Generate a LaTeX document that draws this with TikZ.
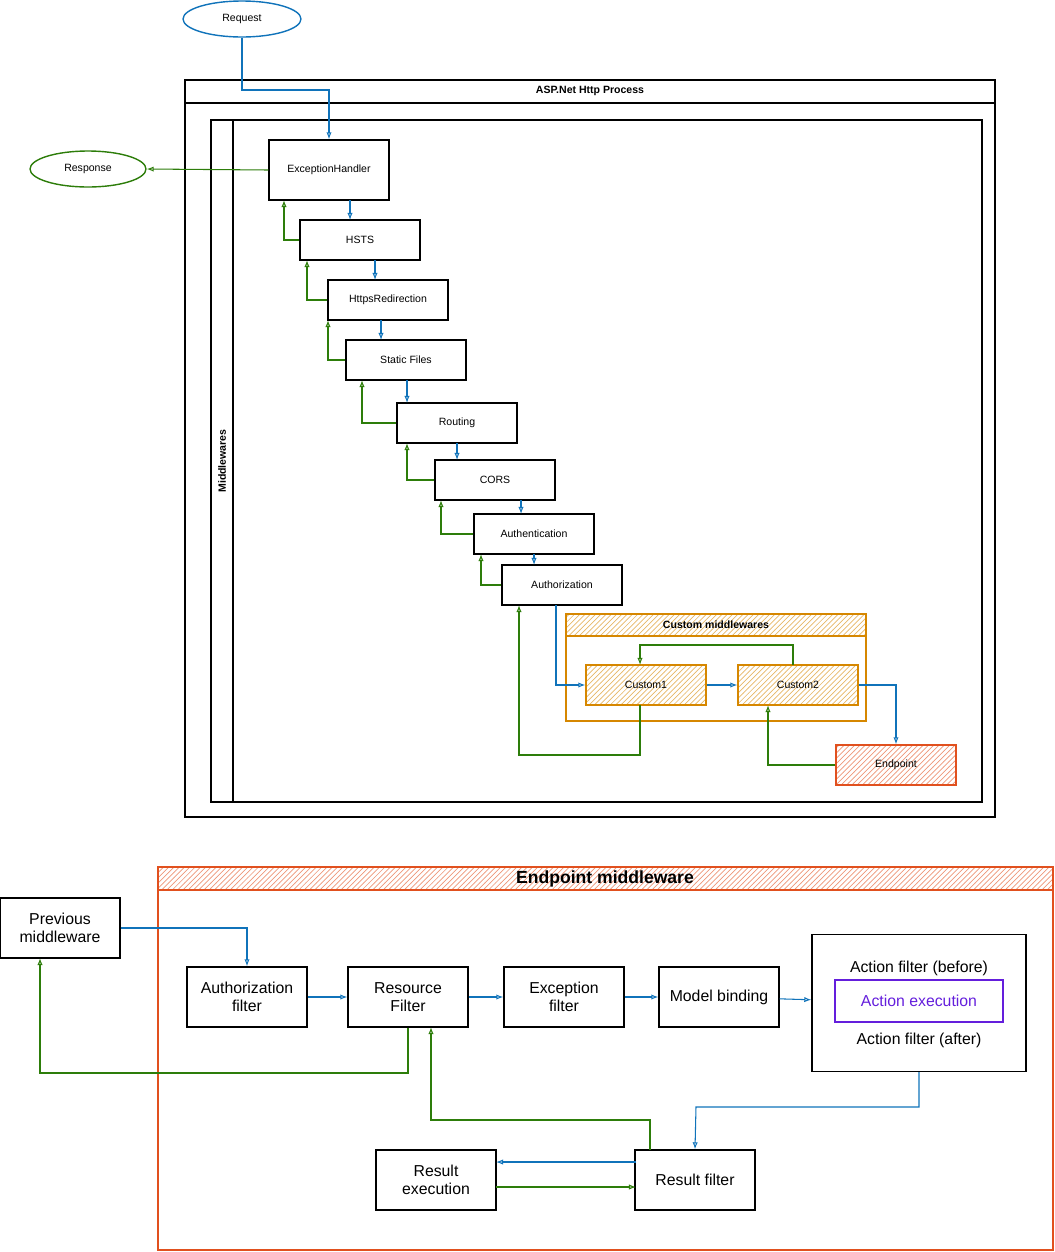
\documentclass[tikz,border=0pt]{standalone}
\usepackage{fontspec}
\setmainfont{Liberation Sans}
\usetikzlibrary{patterns,arrows.meta,shapes.geometric}
\definecolor{blu}{RGB}{16,115,186}
\definecolor{grn}{RGB}{45,125,10}
\definecolor{org}{RGB}{214,135,0}
\definecolor{rd}{RGB}{225,80,30}
\definecolor{prp}{RGB}{100,30,220}
\tikzset{
  mw/.style={draw, thick, fill=white, minimum width=2.4cm, minimum height=0.8cm, inner sep=0pt, font=\fontsize{6}{7}\selectfont},
  flt/.style={draw, thick, fill=white, minimum width=2.4cm, minimum height=1.2cm, inner sep=0pt, align=center, font=\fontsize{9}{10}\selectfont},
  fw/.style={-{Latex[open,length=4pt]}, blu, semithick},
  bk/.style={-{Latex[open,length=4pt]}, grn, semithick}
}
\begin{document}
\begin{tikzpicture}[x=0.02cm, y=-0.02cm]
  \useasboundingbox (0,0) rectangle (1055,1252);
  % top: ASP.Net pipeline
  \draw[thick] (185,80) rectangle (995,817);
  \draw[thick] (185,80) rectangle (995,103);
  \node[font=\fontsize{6}{7}\selectfont\bfseries] at (590,91) {ASP.Net Http Process};
  \draw[thick] (211,120) rectangle (982,802);
  \draw[thick] (233,120) -- (233,802);
  \node[rotate=90, font=\fontsize{6}{7}\selectfont\bfseries] at (222,461) {Middlewares};

  \node[draw=blu, thick, ellipse, minimum width=2.36cm, minimum height=0.72cm, font=\fontsize{6}{7}\selectfont] (req) at (242,19) {Request};
  \node[draw=grn, thick, ellipse, minimum width=2.32cm, minimum height=0.72cm, font=\fontsize{6}{7}\selectfont] (resp) at (88,169) {Response};

  \node[mw, minimum height=1.2cm] (exc) at (329,170) {ExceptionHandler};
  \node[mw] (hsts) at (360,240) {HSTS};
  \node[mw] (https) at (388,300) {HttpsRedirection};
  \node[mw] (stat) at (406,360) {Static Files};
  \node[mw] (rout) at (457,423) {Routing};
  \node[mw] (cors) at (495,480) {CORS};
  \node[mw] (authn) at (534,534) {Authentication};
  \node[mw] (authz) at (562,585) {Authorization};

  \draw[org, thick, pattern=north east lines, pattern color=org!60] (566,614) rectangle (866,636);
  \draw[org, thick] (566,614) rectangle (866,721);
  \node[font=\fontsize{6}{7}\selectfont\bfseries] at (716,625) {Custom middlewares};
  \node[mw, draw=org, pattern=north east lines, pattern color=org!60] (c1) at (646,685) {Custom1};
  \node[mw, draw=org, pattern=north east lines, pattern color=org!60] (c2) at (798,685) {Custom2};
  \node[mw, draw=rd, pattern=north east lines, pattern color=rd!60] (endp) at (896,765) {Endpoint};

  \draw[fw] (req.south) |- (329,90) -- (exc.north);
  \draw[bk] (exc.west) -- (resp.east);
  \draw[fw] (350,200) -- (350,220);
  \draw[fw] (375,260) -- (375,280);
  \draw[fw] (381,320) -- (381,340);
  \draw[fw] (407,380) -- (407,403);
  \draw[fw] (457,443) -- (457,460);
  \draw[fw] (521,500) -- (521,514);
  \draw[fw] (534,554) -- (534,565);
  \draw[bk] (hsts.west) -| (284,200);
  \draw[bk] (https.west) -| (307,260);
  \draw[bk] (stat.west) -| (328,320);
  \draw[bk] (rout.west) -| (362,380);
  \draw[bk] (cors.west) -| (407,443);
  \draw[bk] (authn.west) -| (441,500);
  \draw[bk] (authz.west) -| (481,554);
  \draw[fw] (556,605) |- (c1.west);
  \draw[fw] (c1.east) -- (c2.west);
  \draw[fw] (c2.east) -| (endp.north);
  \draw[bk] (endp.west) -| (768,705);
  \draw[bk] (793,665) |- (640,645) -- (640,665);
  \draw[bk] (640,705) |- (519,755) -- (519,605);

  % bottom: endpoint middleware
  \draw[rd, thick, pattern=north east lines, pattern color=rd!60] (158,867) rectangle (1053,890);
  \draw[rd, thick] (158,867) rectangle (1053,1250);
  \node[font=\fontsize{10}{11}\selectfont\bfseries] at (605,879) {Endpoint middleware};

  \node[flt] (prev) at (60,928) {Previous\\middleware};
  \node[flt] (afl) at (247,997) {Authorization\\filter};
  \node[flt] (rfl) at (408,997) {Resource\\Filter};
  \node[flt] (efl) at (564,997) {Exception\\filter};
  \node[flt] (mb) at (719,997) {Model binding};
  \node[draw, thick, minimum width=4.28cm, minimum height=2.74cm] (act) at (919,1003) {};
  \node[font=\fontsize{9}{10}\selectfont] (abef) at (919,968) {Action filter (before)};
  \node[draw=prp, thick, minimum width=3.36cm, minimum height=0.84cm, text=prp, font=\fontsize{9}{10}\selectfont] (aex) at (919,1001) {Action execution};
  \node[font=\fontsize{9}{10}\selectfont] (aaft) at (919,1040) {Action filter (after)};
  \node[flt] (resf) at (695,1180) {Result filter};
  \node[flt] (rex) at (436,1180) {Result\\execution};

  \draw[fw] (prev.east) -| (afl.north);
  \draw[fw] (afl) -- (rfl);
  \draw[fw] (rfl) -- (efl);
  \draw[fw] (efl) -- (mb);
  \draw[fw] (mb) -- (act);
  \draw[fw] (act.south) |- (696,1107) -- (resf.north);
  \draw[fw] (636,1162) -- (496,1162);
  \draw[bk] (496,1187) -- (636,1187);
  \draw[bk] (650,1150) |- (431,1120) -- (431,1027);
  \draw[bk] (rfl.south) |- (40,1073) -- (40,958);
\end{tikzpicture}
\end{document}
